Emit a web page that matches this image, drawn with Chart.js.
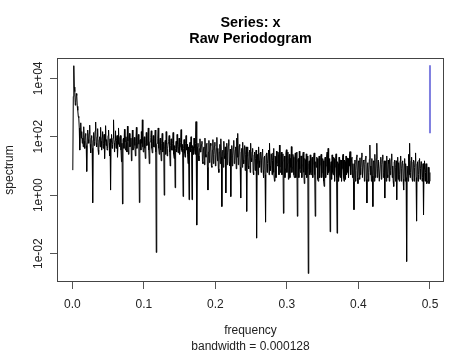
<!DOCTYPE html>
<html><head><meta charset="utf-8">
<script src="https://cdn.jsdelivr.net/npm/chart.js@4.4.1/dist/chart.umd.min.js"></script>
<style>html,body{margin:0;padding:0;background:#fff}#wrap{width:474px;height:354px}</style>
</head><body><div id="wrap"><canvas id="c" width="474" height="354"></canvas></div>
<script>
const titleLines = ['Series: x', 'Raw Periodogram'];
const xAxisTitle = ['frequency', 'bandwidth = 0.000128'];
const yAxisTitle = 'spectrum';
const xTickValues = [0, 0.1, 0.2, 0.3, 0.4, 0.5];
const xTickLabels = ['0.0', '0.1', '0.2', '0.3', '0.4', '0.5'];
const yTickValues = [1e-2, 1e0, 1e2, 1e4];
const yTickLabels = ['1e-02', '1e+00', '1e+02', '1e+04'];
const maxFreq = 0.5;
const spectrum = [
  7.2,2400, 27000,5000, 3500,1200, 1500,3000, 2600,1100, 800,500, 450,200, 35,120, 300,90, 150,60,
  90,45, 220,70, 40,110, 130,50, 6.5,60, 170,80, 60,130, 250,55, 28,90, 110,40,
  0.55,75, 140,50, 70,160, 320,60, 45,100, 190,35, 25,80, 100,45, 210,70, 35,95,
  150,40, 60,120, 18,70, 240,50, 80,35, 40,110, 170,60, 22,85, 1.5,65, 120,40,
  55,90, 380,60, 30,75, 160,40, 75,110, 20,55, 200,70, 45,95, 110,35, 14,60,
  0.5,80, 90,40, 180,65, 35,100, 65,30, 230,70, 25,85, 130,45, 50,90, 15,55,
  170,35, 40,80, 95,50, 22,70, 210,40, 60,95, 120,55, 0.56,75, 80,35, 150,60,
  380,45, 30,85, 100,40, 18,65, 140,50, 55,90, 200,35, 12,60, 70,95, 160,40,
  28,70, 110,45, 45,85, 170,30, 0.011,55, 60,90, 200,40, 25,70, 90,35, 15,60,
  130,30, 40,65, 1.0,45, 75,25, 150,55, 22,40, 60,70, 110,30, 10,50, 85,35,
  35,60, 140,25, 18,50, 1.8,40, 70,30, 120,55, 28,45, 90,25, 45,65, 175,35,
  30,55, 0.9,40, 80,28, 20,60, 110,35, 55,25, 12,45, 0.7,55, 65,30, 100,40,
  0.7,50, 45,25, 90,40, 25,60, 330,30, 0.095,45, 60,22, 15,40, 85,30, 35,55,
  70,14, 12,40, 45,11, 90,25, 20,55, 60,9, 1.5,30, 75,13, 30,60, 50,10,
  9,35, 80,12, 25,48, 65,10, 16,40, 95,15, 40,8, 6,30, 55,12, 85,20,
  0.41,30, 35,9, 70,22, 18,45, 1.2,25, 60,11, 28,50, 80,14, 10,38, 0.9,20,
  50,10, 22,42, 75,12, 15,35, 45,8, 90,20, 130,11, 20,48, 55,9, 0.8,30,
  40,9, 65,16, 12,40, 50,7, 25,45, 0.28,22, 45,10, 8,30, 35,6, 60,18,
  14,30, 40,6, 5,24, 30,7, 18,35, 0.034,12, 25,5, 45,15, 9,28, 30,6,
  16,30, 38,7, 4,20, 22,5, 0.12,25, 28,6, 12,28, 35,5, 60,10, 7,26,
  25,5, 15,28, 40,6, 3,22, 20,4, 32,12, 10,30, 24,5, 52,9, 6,25,
  30,5, 14,26, 0.24,14, 22,4, 8,28, 36,6, 12,30, 3.5,18, 25,4, 18,9,
  46,6, 9,25, 20,5, 4,20, 28,4, 14,30, 0.19,16, 18,4, 32,8, 6,22,
  22,4, 11,24, 30,6, 2.5,18, 16,5, 26,4, 8,22, 0.0021,12, 15,5, 24,6,
  5,18, 20,4, 12,22, 28,5, 0.19,14, 9,20, 18,3.5, 3,16, 22,4, 11,20,
  25,4, 6,18, 15,3, 2,15, 20,4, 10,22, 30,5, 40,6, 7,18, 0.056,10,
  14,3.5, 24,6, 5,20, 18,3, 9,18, 26,4, 0.05,14, 12,3, 20,5, 4,16,
  16,3, 8,20, 25,4, 3,16, 14,3.5, 22,5, 6,19, 18,4, 10,22, 31,5,
  5,18, 20,4, 12,3, 0.32,12, 16,3, 7,20, 24,4, 2.5,15, 14,3.5, 19,5,
  9,20, 28,4, 4,16, 15,3, 11,18, 22,3.5, 0.54,12, 13,3, 6,17, 52,5,
  10,3, 18,4.5, 0.41,15, 14,3, 25,4, 5,18, 60,4, 8,16, 16,3, 3,14,
  20,3.5, 11,17, 24,4, 6,15, 0.8,12, 15,3, 22,5, 4,16, 12,3, 18,5,
  7,16, 26,4, 10,3, 2,14, 16,3, 9,15, 0.7,12, 20,3.5, 13,3, 5,15,
  22,3, 8,14, 15,3.5, 1.5,12, 18,3, 12,4, 0.0054,10, 10,3, 25,5, 60,4,
  6,15, 20,3.5, 3,14, 16,3, 9,15, 28,4, 0.13,12, 14,3, 5,16, 18,3.5,
  8,14, 13,3, 4,12, 0.21,8, 15,3, 6,12, 11,2.5, 3,9, 9,2.5, 3,6
];
const ciFreq = 0.5;
const ciBar = [28000, 133];

const FONT = '"Liberation Sans", Arial, Helvetica, sans-serif';
const freqs = spectrum.map((_, i) => (i + 1) * maxFreq / spectrum.length);
const lineData = spectrum.map((v, i) => ({ x: freqs[i], y: v }));
const ciData = ciBar.map(v => ({ x: ciFreq, y: v }));

const decor = {
  id: 'decor',
  afterDraw(chart) {
    const c = chart.ctx, a = chart.chartArea;
    const cx = (a.left + a.right) / 2;
    c.save();
    c.strokeStyle = '#444'; c.lineWidth = 1;
    c.strokeRect(a.left + 0.5, a.top + 0.5, a.right - a.left - 1, a.bottom - a.top - 1);
    c.fillStyle = '#000';
    c.textAlign = 'center'; c.textBaseline = 'alphabetic';
    c.font = 'bold 14.4px ' + FONT;
    c.fillText(titleLines[0], cx, 27);
    c.fillText(titleLines[1], cx, 42.6);
    c.fillStyle = '#222';
    c.font = '12px ' + FONT;
    c.fillText(xAxisTitle[0], cx, 334);
    c.fillText(xAxisTitle[1], cx, 349.5);
    const ys = chart.scales.y;
    yTickValues.forEach((v, i) => {
      c.save();
      c.translate(41.7, ys.getPixelForValue(v));
      c.rotate(-Math.PI / 2);
      c.fillText(yTickLabels[i], 0, 0);
      c.restore();
    });
    c.save();
    c.translate(13, (a.top + a.bottom) / 2);
    c.rotate(-Math.PI / 2);
    c.fillText(yAxisTitle, 0, 0);
    c.restore();
    c.restore();
  }
};

new Chart(document.getElementById('c').getContext('2d'), {
  type: 'line',
  data: {
    datasets: [
      { data: lineData, borderColor: '#000', borderWidth: 1, pointRadius: 0, tension: 0, fill: false },
      { data: ciData, borderColor: '#7f7fe0', borderWidth: 2, pointRadius: 0, fill: false }
    ]
  },
  options: {
    responsive: false, animation: false, devicePixelRatio: 1,
    layout: { padding: { top: 58, right: 30, bottom: 0, left: 0 } },
    plugins: { legend: { display: false }, title: { display: false }, tooltip: { enabled: false } },
    scales: {
      x: {
        type: 'linear', min: -0.0214, max: 0.5196,
        afterBuildTicks: s => { s.ticks = xTickValues.map(v => ({ value: v })); },
        afterFit: s => { s.height = 72; },
        ticks: {
          callback: v => xTickLabels[xTickValues.indexOf(v)],
          color: '#222', font: { family: FONT, size: 12 }, padding: 8, maxRotation: 0, autoSkip: false
        },
        grid: { display: true, drawOnChartArea: false, drawTicks: true, tickLength: 7, color: '#555' },
        border: { display: false }
      },
      y: {
        type: 'logarithmic', min: Math.pow(10, -2.97), max: Math.pow(10, 4.695),
        afterBuildTicks: s => { s.ticks = yTickValues.map(v => ({ value: v })); },
        afterFit: s => { s.width = 57; },
        ticks: { display: false },
        grid: { display: true, drawOnChartArea: false, drawTicks: true, tickLength: 7, color: '#555' },
        border: { display: false }
      }
    }
  },
  plugins: [decor]
});
</script>
</body></html>
